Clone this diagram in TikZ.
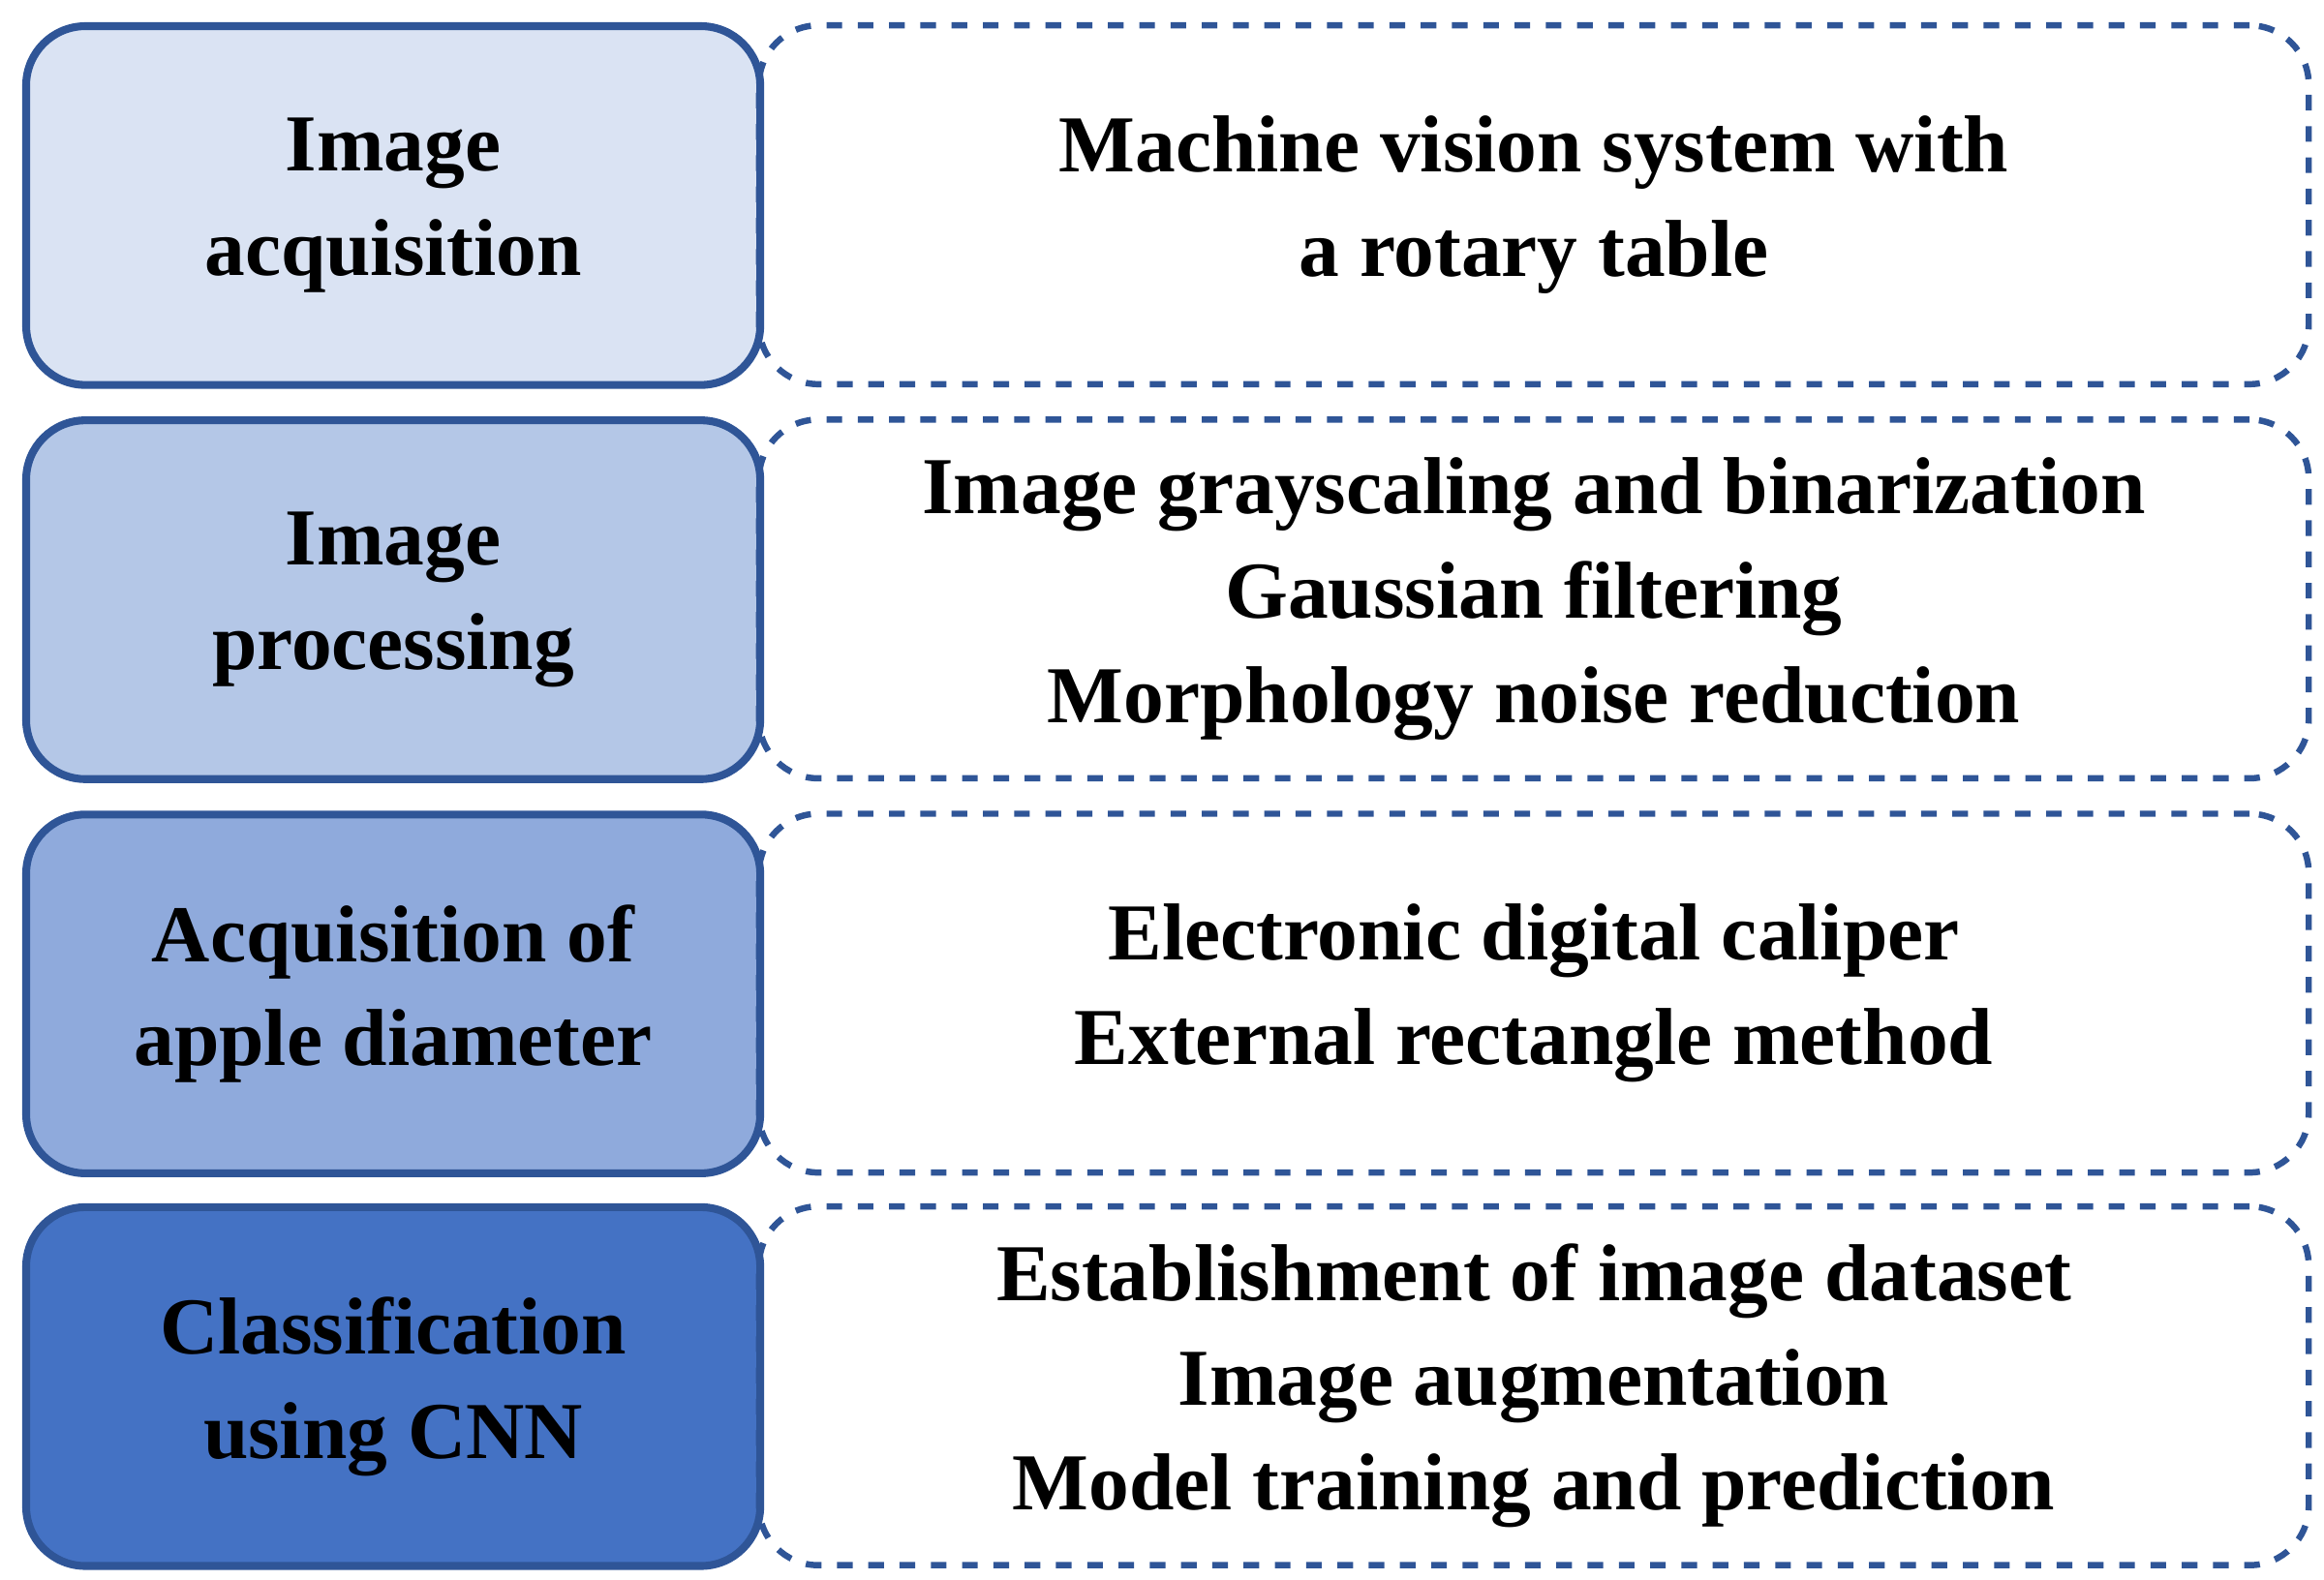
\documentclass[tikz,border=0pt]{standalone}
\usepackage{fontspec}
\setmainfont{Liberation Serif}
\begin{document}
\begin{tikzpicture}[x=0.01cm,y=-0.01cm,
  lbox/.style={draw=blue!40!black!80, draw=bd, line width=1.5pt, rounded corners=0.4cm, minimum width=4.95cm, minimum height=2.42cm, align=center, font=\fontsize{15.5pt}{20pt}\selectfont\bfseries, anchor=north west, inner sep=0pt},
  rbox/.style={draw=bd, line width=1.2pt, dashed, rounded corners=0.4cm, minimum width=10.45cm, minimum height=2.42cm, align=center, font=\fontsize{15.5pt}{20pt}\selectfont\bfseries, anchor=north west, inner sep=0pt}]
\definecolor{bd}{HTML}{2F5597}
\definecolor{c1}{HTML}{DAE3F3}
\definecolor{c2}{HTML}{B4C7E7}
\definecolor{c3}{HTML}{8FAADC}
\definecolor{c4}{HTML}{4472C4}
\useasboundingbox (0,0) rectangle (1568,1066);
\node[lbox, fill=c1] (l1) at (15,15) {Image\\acquisition};
\node[lbox, fill=c2] (l2) at (15,281) {Image\\processing};
\node[lbox, fill=c3] (l3) at (15,547) {Acquisition of\\apple diameter};
\node[lbox, fill=c4] (l4) at (15,812) {Classification\\using CNN};
\node[rbox] (r1) at (510,15) {Machine vision system with\\a rotary table};
\node[rbox] (r2) at (510,281) {Image grayscaling and binarization\\Gaussian filtering\\Morphology noise reduction};
\node[rbox] (r3) at (510,547) {Electronic digital caliper\\External rectangle method};
\node[rbox] (r4) at (510,812) {Establishment of image dataset\\Image augmentation\\Model training and prediction};
\end{tikzpicture}
\end{document}
